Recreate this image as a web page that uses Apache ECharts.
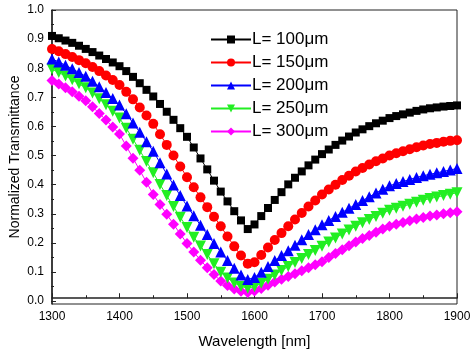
<!DOCTYPE html>
<html>
<head>
<meta charset="utf-8">
<script src="https://cdn.jsdelivr.net/npm/echarts@6/dist/echarts.min.js"></script>
<style>
  html, body { margin: 0; padding: 0; background: #fff; }
  #chart { width: 474px; height: 354px; }
</style>
</head>
<body>
<div id="chart"></div>
<script>
// wavelength samples, nm
const wavelength = [
  1300, 1310, 1320, 1330, 1340, 1350, 1360, 1370, 1380, 1390,
  1400, 1410, 1420, 1430, 1440, 1450, 1460, 1470, 1480, 1490,
  1500, 1510, 1520, 1530, 1540, 1550, 1560, 1570, 1580, 1590,
  1600, 1610, 1620, 1630, 1640, 1650, 1660, 1670, 1680, 1690,
  1700, 1710, 1720, 1730, 1740, 1750, 1760, 1770, 1780, 1790,
  1800, 1810, 1820, 1830, 1840, 1850, 1860, 1870, 1880, 1890,
  1900
];

const seriesNames = ["L= 100μm", "L= 150μm", "L= 200μm", "L= 250μm", "L= 300μm"];

const tL100 = [
  0.910, 0.902, 0.894, 0.886, 0.876, 0.865, 0.854, 0.842, 0.830, 0.818,
  0.805, 0.788, 0.768, 0.746, 0.723, 0.700, 0.674, 0.647, 0.619, 0.590,
  0.560, 0.523, 0.485, 0.447, 0.408, 0.370, 0.336, 0.302, 0.270, 0.240,
  0.256, 0.285, 0.313, 0.341, 0.368, 0.395, 0.418, 0.440, 0.461, 0.481,
  0.500, 0.516, 0.532, 0.547, 0.561, 0.575, 0.586, 0.597, 0.607, 0.616,
  0.625, 0.632, 0.638, 0.644, 0.650, 0.655, 0.659, 0.662, 0.665, 0.667,
  0.669
];
const tL150 = [
  0.865, 0.857, 0.847, 0.837, 0.826, 0.815, 0.802, 0.788, 0.773, 0.757,
  0.740, 0.716, 0.690, 0.662, 0.634, 0.605, 0.569, 0.532, 0.495, 0.457,
  0.420, 0.385, 0.350, 0.316, 0.283, 0.250, 0.214, 0.180, 0.148, 0.120,
  0.125, 0.150, 0.176, 0.202, 0.226, 0.250, 0.273, 0.296, 0.318, 0.339,
  0.360, 0.377, 0.394, 0.410, 0.425, 0.440, 0.452, 0.464, 0.475, 0.485,
  0.495, 0.503, 0.510, 0.517, 0.524, 0.530, 0.535, 0.539, 0.543, 0.546,
  0.548
];
const tL200 = [
  0.830, 0.820, 0.808, 0.796, 0.783, 0.770, 0.753, 0.734, 0.714, 0.693,
  0.670, 0.640, 0.608, 0.576, 0.543, 0.510, 0.470, 0.431, 0.393, 0.356,
  0.320, 0.286, 0.253, 0.221, 0.190, 0.160, 0.131, 0.104, 0.081, 0.065,
  0.072, 0.090, 0.110, 0.131, 0.148, 0.165, 0.184, 0.203, 0.221, 0.238,
  0.255, 0.270, 0.284, 0.298, 0.312, 0.325, 0.339, 0.352, 0.365, 0.378,
  0.390, 0.398, 0.405, 0.412, 0.419, 0.425, 0.430, 0.435, 0.440, 0.445,
  0.450
];
const tL250 = [
  0.795, 0.783, 0.771, 0.758, 0.744, 0.730, 0.712, 0.692, 0.671, 0.649,
  0.625, 0.590, 0.552, 0.513, 0.474, 0.435, 0.395, 0.356, 0.318, 0.281,
  0.245, 0.212, 0.181, 0.152, 0.120, 0.090, 0.070, 0.053, 0.041, 0.035,
  0.040, 0.052, 0.066, 0.081, 0.096, 0.110, 0.124, 0.138, 0.152, 0.166,
  0.180, 0.195, 0.209, 0.223, 0.237, 0.250, 0.262, 0.273, 0.284, 0.295,
  0.305, 0.312, 0.319, 0.326, 0.333, 0.340, 0.346, 0.351, 0.356, 0.361,
  0.366
];
const tL300 = [
  0.755, 0.743, 0.730, 0.716, 0.701, 0.685, 0.664, 0.641, 0.618, 0.594,
  0.570, 0.528, 0.486, 0.444, 0.402, 0.360, 0.325, 0.291, 0.257, 0.223,
  0.190, 0.160, 0.132, 0.106, 0.082, 0.060, 0.044, 0.032, 0.024, 0.020,
  0.025, 0.034, 0.045, 0.056, 0.066, 0.075, 0.085, 0.095, 0.106, 0.116,
  0.127, 0.141, 0.155, 0.168, 0.182, 0.195, 0.207, 0.218, 0.229, 0.240,
  0.250, 0.257, 0.263, 0.269, 0.275, 0.280, 0.285, 0.289, 0.293, 0.297,
  0.300
];

const chart = echarts.init(document.getElementById("chart"));

const font = "Liberation Sans, Arial, sans-serif";
const allValues = [tL100, tL150, tL200, tL250, tL300];
const colors = ["#000000", "#ff0000", "#0000ff", "#22ee22", "#ff00ff"];
const symbols = ["rect", "circle", "triangle", "triangle", "diamond"];
const symbolSizes = [8, 10, 11, 11, 11];
const rotates = [0, 0, 0, 180, 0];

// data grid: y from -0.02 to 1.0 ; 0 sits slightly above the x axis line
const gridTop = 10;
const gridBottom = 47;
const plotH = 354 - gridTop - gridBottom;
// tick grid: same top, bottom placed where y = 0 falls in the data grid
const tickBottom = gridBottom + plotH * (0.02 / 1.02);

const series = allValues.map((vals, i) => ({
  name: seriesNames[i],
  type: "line",
  xAxisIndex: 0,
  yAxisIndex: 0,
  data: wavelength.map((w, k) => [w, vals[k]]),
  symbol: symbols[i],
  symbolSize: symbolSizes[i],
  symbolRotate: rotates[i],
  showAllSymbol: true,
  color: colors[i],
  lineStyle: { width: 1, color: colors[i] },
  itemStyle: { color: colors[i] },
  z: 10 - i
}));

const option = {
  animation: false,
  backgroundColor: "#fff",
  grid: [
    { left: 51, right: 17, top: gridTop, bottom: gridBottom, show: true, borderColor: "#222", borderWidth: 1 },
    { left: 51, right: 17, top: gridTop, bottom: tickBottom }
  ],
  legend: {
    orient: "vertical",
    left: 205,
    top: 26,
    itemWidth: 40,
    itemHeight: 10,
    itemGap: 6,
    data: seriesNames,
    textStyle: { fontFamily: font, fontSize: 17, color: "#000", lineHeight: 17, padding: [0, 0, 0, -4] }
  },
  xAxis: [
    {
      gridIndex: 0,
      type: "value",
      min: 1300,
      max: 1900,
      interval: 100,
      name: "Wavelength [nm]",
      nameLocation: "middle",
      nameGap: 30,
      nameTextStyle: { fontFamily: font, fontSize: 15, color: "#000" },
      axisLine: { show: true, lineStyle: { color: "#222", width: 1.5 } },
      axisTick: { inside: true, length: 5, lineStyle: { color: "#222" } },
      minorTick: { show: true, splitNumber: 2, length: 3, lineStyle: { color: "#222" } },
      axisLabel: { fontFamily: font, fontSize: 12, color: "#000", margin: 7, formatter: (v) => String(v) },
      splitLine: { show: false }
    },
    {
      gridIndex: 1,
      type: "value",
      min: 1300,
      max: 1900,
      show: false
    }
  ],
  yAxis: [
    {
      gridIndex: 0,
      type: "value",
      min: -0.02,
      max: 1.0,
      name: "Normalized Transmittance",
      nameLocation: "middle",
      nameGap: 30,
      nameTextStyle: { fontFamily: font, fontSize: 14, color: "#000" },
      axisLine: { show: true, lineStyle: { color: "#222", width: 1.5 } },
      axisTick: { show: false },
      axisLabel: { show: false },
      splitLine: { show: false }
    },
    {
      gridIndex: 1,
      type: "value",
      min: 0,
      max: 1.0,
      interval: 0.1,
      axisLine: { show: false },
      axisTick: { show: true, inside: true, length: 5, lineStyle: { color: "#222" } },
      minorTick: { show: true, splitNumber: 2, length: 3, lineStyle: { color: "#222" } },
      axisLabel: { fontFamily: font, fontSize: 12, color: "#000", margin: 7, formatter: (v) => v.toFixed(1) },
      splitLine: { show: false }
    }
  ],
  series: series
};

chart.setOption(option);
</script>
</body>
</html>
